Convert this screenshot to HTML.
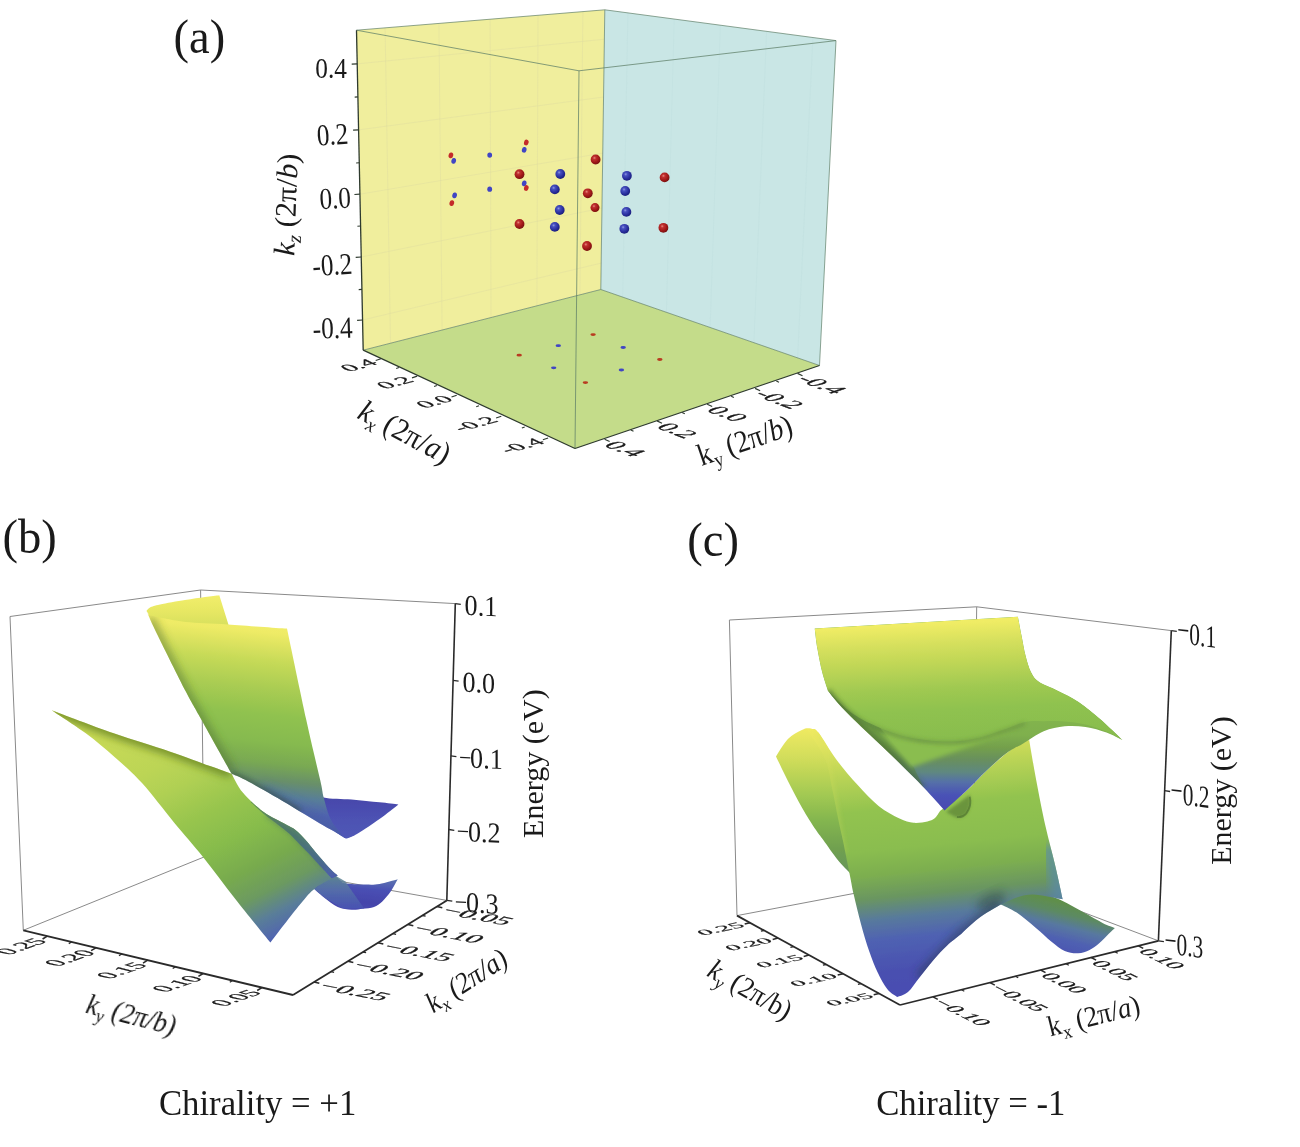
<!DOCTYPE html>
<html><head><meta charset="utf-8"><title>Figure</title>
<style>
html,body{margin:0;padding:0;background:#fff;}
body{width:1300px;height:1147px;overflow:hidden;}
svg{display:block;font-family:'Liberation Serif','Times New Roman',serif;filter:blur(0.45px);}
</style></head><body>
<svg width="1300" height="1147" viewBox="0 0 1300 1147">
<defs>
<radialGradient id="gb" cx="0.38" cy="0.34" r="0.65"><stop offset="0" stop-color="#8f97e0"/><stop offset="0.25" stop-color="#4650c0"/><stop offset="0.7" stop-color="#2a2f9e"/><stop offset="1" stop-color="#1c2080"/></radialGradient>
<radialGradient id="gr" cx="0.38" cy="0.34" r="0.65"><stop offset="0" stop-color="#e88a80"/><stop offset="0.25" stop-color="#c03030"/><stop offset="0.7" stop-color="#a01818"/><stop offset="1" stop-color="#7a1010"/></radialGradient>
<filter id="b03" x="-20%" y="-20%" width="140%" height="140%"><feGaussianBlur stdDeviation="0.35"/></filter>
<filter id="b05" x="-20%" y="-20%" width="140%" height="140%"><feGaussianBlur stdDeviation="0.5"/></filter>
<filter id="s06" x="-5%" y="-5%" width="110%" height="110%"><feGaussianBlur stdDeviation="0.6"/></filter>
<filter id="s2" x="-30%" y="-30%" width="160%" height="160%"><feGaussianBlur stdDeviation="2"/></filter>
<filter id="s4" x="-30%" y="-30%" width="160%" height="160%"><feGaussianBlur stdDeviation="4"/></filter>
<filter id="s7" x="-50%" y="-50%" width="200%" height="200%"><feGaussianBlur stdDeviation="7"/></filter>
<linearGradient id="bLflap" gradientUnits="userSpaceOnUse" x1="340" y1="876" x2="336.4" y2="911.6"><stop offset="0.000" stop-color="#5a6fb0"/><stop offset="0.278" stop-color="#4a50b4"/><stop offset="0.667" stop-color="#4444aa"/><stop offset="1.000" stop-color="#4a4cb2"/></linearGradient>
<linearGradient id="bLinner" gradientUnits="userSpaceOnUse" x1="340" y1="874" x2="340" y2="908"><stop offset="0.000" stop-color="#5f8a88"/><stop offset="0.471" stop-color="#5572a8"/><stop offset="1.000" stop-color="#4a55b2"/></linearGradient>
<linearGradient id="bLsheet" gradientUnits="userSpaceOnUse" x1="150" y1="662" x2="286" y2="934"><stop offset="0.000" stop-color="#c9da57"/><stop offset="0.171" stop-color="#c6d957"/><stop offset="0.318" stop-color="#bcd555"/><stop offset="0.406" stop-color="#b0d053"/><stop offset="0.524" stop-color="#98c54e"/><stop offset="0.641" stop-color="#87bc4c"/><stop offset="0.759" stop-color="#77aa4e"/><stop offset="0.847" stop-color="#6c9a60"/><stop offset="0.921" stop-color="#5a7e98"/><stop offset="1.000" stop-color="#4f62b2"/></linearGradient>
<clipPath id="bLclip"><path d="M51.6,710.2C62,714.1 94.1,726.4 113.7,733.3C133.3,740.2 153.4,745.9 169.5,751.4C185.6,756.9 199.7,762.3 210,766C220.3,769.7 228,772.4 231.6,773.7C233.5,776.9 237.5,786.2 242.8,792.6C248.2,799 256.5,806.8 263.7,812.1C270.9,817.4 280.6,821.6 286,824.6C291.4,827.6 292.5,827.6 295.8,830.2C299.1,832.8 301.7,835.6 305.6,840C309.6,844.4 315.3,851.8 319.5,856.7C323.7,861.6 327.7,866.2 330.7,869.3C333.7,872.4 336.5,874.5 337.7,875.5C334,877.6 321.6,883.4 315.3,888.2C309,893 307.5,895.5 300,904.5C292.5,913.5 275.3,936.2 270.4,942.5C264.6,935.3 246.7,913.5 235.5,899.2C224.3,884.9 213.2,869.7 203,856.9C192.8,844.1 184.2,834.7 174,822.4C163.8,810.1 151.9,794 142,783.1C132.1,772.2 123.9,765.3 114.5,757C105.1,748.7 96.3,741.1 85.8,733.3C75.3,725.5 57.3,714.1 51.6,710.2Z"/></clipPath>
<linearGradient id="bLband" gradientUnits="userSpaceOnUse" x1="300" y1="805" x2="300" y2="878"><stop offset="0.000" stop-color="#5c8a58"/><stop offset="0.411" stop-color="#4f7a72"/><stop offset="0.753" stop-color="#4a6a98"/><stop offset="1.000" stop-color="#4a58b0"/></linearGradient>
<linearGradient id="bUback" gradientUnits="userSpaceOnUse" x1="180" y1="595" x2="180" y2="630"><stop offset="0.000" stop-color="#f2ee69"/><stop offset="0.486" stop-color="#e6e763"/><stop offset="1.000" stop-color="#d2de5c"/></linearGradient>
<linearGradient id="bUflap" gradientUnits="userSpaceOnUse" x1="340" y1="797" x2="340" y2="838"><stop offset="0.000" stop-color="#4646aa"/><stop offset="0.439" stop-color="#4c50b2"/><stop offset="1.000" stop-color="#5058b6"/></linearGradient>
<linearGradient id="bUsheet" gradientUnits="userSpaceOnUse" x1="300" y1="624" x2="279.1" y2="832.9"><stop offset="0.000" stop-color="#f3ee68"/><stop offset="0.057" stop-color="#eeeb66"/><stop offset="0.123" stop-color="#dbe25f"/><stop offset="0.194" stop-color="#c6da58"/><stop offset="0.322" stop-color="#a9cc52"/><stop offset="0.445" stop-color="#90c24f"/><stop offset="0.573" stop-color="#86ba4f"/><stop offset="0.673" stop-color="#79a952"/><stop offset="0.754" stop-color="#688f6a"/><stop offset="0.825" stop-color="#587e98"/><stop offset="0.900" stop-color="#4f62b0"/><stop offset="1.000" stop-color="#4c54b4"/></linearGradient>
<clipPath id="bUclip"><path d="M146.5,611C146.8,611.5 147.3,613.2 148,614C148.7,614.8 150.4,615.3 150.9,615.6C153.2,616.1 159.2,617.6 165,618.6C170.8,619.6 175.4,620.9 185.8,621.9C196.2,622.9 210.8,623.3 227.7,624.4C244.6,625.5 277.1,627.9 287,628.6C290.2,643.8 300.8,694.8 306.3,720C311.8,745.2 317.3,767.1 320.2,780C323.1,792.9 322.1,791.1 323.7,797.4C325.3,803.7 327.6,812.3 330,817.7C332.4,823.1 335.6,826.6 338,830C340.4,833.4 343.5,836.6 344.6,837.9C344.4,837.7 347.5,838.9 343.3,836.5C339.1,834.1 330.4,829.7 319.5,823.3C308.6,816.9 290,805.3 277.7,798.1C265.4,790.9 253.3,784.1 245.6,780C237.9,775.9 233.9,774.8 231.6,773.7C226.6,764.8 209.2,733.7 201.6,720C194,706.3 193.1,705.6 185.8,691.6C178.5,677.6 164.5,649.2 157.9,635.8C151.3,622.4 148.4,615.1 146.5,611Z"/></clipPath>
<linearGradient id="cLback" gradientUnits="userSpaceOnUse" x1="800" y1="728" x2="800" y2="875"><stop offset="0.000" stop-color="#f0ea62"/><stop offset="0.218" stop-color="#cfdc5a"/><stop offset="0.456" stop-color="#a2c952"/><stop offset="0.626" stop-color="#84b64f"/><stop offset="0.830" stop-color="#6f9f50"/><stop offset="1.000" stop-color="#66955a"/></linearGradient>
<linearGradient id="cLflap" gradientUnits="userSpaceOnUse" x1="1030" y1="893" x2="1015.9" y2="949.5"><stop offset="0.000" stop-color="#5f8f48"/><stop offset="0.200" stop-color="#5c8a62"/><stop offset="0.417" stop-color="#5878a0"/><stop offset="0.650" stop-color="#4f60b2"/><stop offset="1.000" stop-color="#4a4eb0"/></linearGradient>
<linearGradient id="cLsheet" gradientUnits="userSpaceOnUse" x1="900" y1="719" x2="927.6" y2="995.2"><stop offset="0.000" stop-color="#f0ea62"/><stop offset="0.065" stop-color="#e3e55f"/><stop offset="0.176" stop-color="#bdd556"/><stop offset="0.319" stop-color="#92c34f"/><stop offset="0.462" stop-color="#8abd4f"/><stop offset="0.552" stop-color="#7cae50"/><stop offset="0.634" stop-color="#6a9660"/><stop offset="0.710" stop-color="#587a9c"/><stop offset="0.785" stop-color="#4f62b2"/><stop offset="0.900" stop-color="#4a50b0"/><stop offset="1.000" stop-color="#4a4cb2"/></linearGradient>
<clipPath id="cLclip"><path d="M807,729.5C807.8,729.4 810.1,728.5 812,729C813.9,729.5 814.5,727.6 818.6,732.8C822.7,738 830.2,751.3 836.7,760C843.2,768.7 850.7,777.4 857.7,785.1C864.7,792.8 871.6,800.4 878.6,806C885.6,811.6 893.7,815.8 899.5,818.6C905.3,821.4 908.9,822.3 913.5,822.8C918.1,823.3 923.9,822.1 927.4,821.4C930.9,820.7 932.3,820.3 934.4,818.6C936.5,816.9 939.1,812.3 940,811C944.3,807.8 957.9,798.3 965.6,791.6C973.4,784.9 979.5,777.2 986.5,770.7C993.5,764.2 1001.8,757.2 1007.4,752.6C1013,748 1016.4,744.9 1020,742.8C1023.6,740.7 1027.7,740.5 1029.2,740C1030.3,746.4 1033.2,764 1035.9,778.4C1038.6,792.8 1042.3,811.9 1045.5,826.3C1048.7,840.7 1052.1,852.6 1055,864.7C1057.9,876.9 1061.4,893.5 1062.7,899.2C1060.2,898.8 1052.5,897.3 1047.4,896.5C1042.3,895.7 1037.1,894.4 1032,894.6C1026.9,894.8 1022.1,895.7 1016.7,897.5C1011.3,899.3 1002.4,903.9 999.5,905.2C996,907.4 985.1,913.3 978.4,918.4C971.7,923.5 964.4,931.1 959.2,935.6C954,940.1 951.7,941.2 947.4,945.3C943.1,949.4 938.1,954.6 933.5,960C928.9,965.4 923.8,972.2 919.5,977.5C915.2,982.8 911.7,988.8 908,992C904.3,995.2 899,996.2 897.2,997C895.6,995.7 890.6,993.4 887.4,989.3C884.1,985.2 880.7,978.9 877.7,972.6C874.7,966.3 872.1,959.8 869.3,951.6C866.5,943.5 863.4,933 860.9,923.7C858.4,914.4 855.9,903.9 854,895.8C852.1,887.7 851.7,884.2 849.8,874.9C847.9,865.6 844.8,849.4 842.8,840C840.8,830.6 839.8,826.8 838.1,818.6C836.4,810.4 834.8,800.7 832.6,790.7C830.4,780.7 829.3,768.8 825,758.6C820.7,748.4 810,734.4 807,729.5Z"/></clipPath>
<filter id="s15" x="-30%" y="-30%" width="160%" height="160%"><feGaussianBlur stdDeviation="1.8"/></filter>
<linearGradient id="cUin" gradientUnits="userSpaceOnUse" x1="900" y1="700" x2="900" y2="812"><stop offset="0.000" stop-color="#86b84e"/><stop offset="0.312" stop-color="#7fb04e"/><stop offset="0.429" stop-color="#739f4c"/><stop offset="0.536" stop-color="#688f5e"/><stop offset="0.643" stop-color="#5f8880"/><stop offset="0.732" stop-color="#5570a8"/><stop offset="0.848" stop-color="#4a52b6"/><stop offset="1.000" stop-color="#4848b0"/></linearGradient>
<clipPath id="cUclip"><path d="M814.7,628.6L1017.9,616.7C1018.5,619.7 1020.1,628.4 1021.4,634.9C1022.7,641.4 1024,649.5 1025.6,655.8C1027.2,662.1 1028.9,668.2 1031.2,672.6C1033.5,677 1035.1,679.3 1039.5,682.3C1043.9,685.3 1051.2,687.4 1057.7,690.7C1064.2,694 1071.6,697.2 1078.6,701.9C1085.6,706.5 1092.2,712.2 1099.5,718.6C1106.8,725 1118.8,736.6 1122.6,740.2C1119.9,738.9 1112.7,734.8 1106.5,732.6C1100.3,730.4 1092.6,728 1085.6,727C1078.6,726 1071.7,725.6 1064.7,726.3C1057.7,727 1050.7,728.3 1043.7,731.2C1036.7,734.1 1028.8,740.1 1022.8,743.7C1016.8,747.3 1013.4,748.1 1007.4,752.6C1001.4,757.1 993.5,764.2 986.5,770.7C979.5,777.2 972.6,785 965.6,791.6C958.6,798.2 948.1,807.4 944.6,810.5C941.1,806.6 931.8,795.9 923.7,787.4C915.6,778.9 905.1,768.6 895.8,759.5C886.5,750.4 876.9,741.7 867.9,733C858.9,724.3 848.6,714.4 841.9,707.4C835.2,700.4 830.2,693.5 827.9,690.7C827,687.7 824,679.6 822.3,672.6C820.5,665.6 818.7,656.1 817.4,648.8C816.1,641.5 815.2,632 814.7,628.6Z"/></clipPath>
<linearGradient id="cUface" gradientUnits="userSpaceOnUse" x1="900" y1="616" x2="906.4" y2="744.7"><stop offset="0.000" stop-color="#f4ee66"/><stop offset="0.078" stop-color="#efec65"/><stop offset="0.225" stop-color="#d6e05d"/><stop offset="0.380" stop-color="#bfd656"/><stop offset="0.574" stop-color="#a0c951"/><stop offset="0.744" stop-color="#8fc24f"/><stop offset="1.000" stop-color="#88bc4e"/></linearGradient>
</defs>
<rect width="1300" height="1147" fill="#ffffff"/>
<text transform="translate(173.5 53) scale(0.97 1)" font-size="48" text-anchor="start" fill="#1a1a1a" >(a)</text>
<polygon points="356.5,30.2 604.8,9.8 600.8,289.5 363.2,350.2" fill="#f0ee9d" />
<polygon points="604.8,9.8 836,40.6 819.5,365.5 600.8,289.5" fill="#c9e6e5" />
<polygon points="363.2,350.2 600.8,289.5 819.5,365.5 575,448.5" fill="#c4dc8a" />
<line x1="385.1" y1="27.9" x2="390.5" y2="343.2" stroke="#dcdaa0" stroke-width="0.9" stroke-opacity="0.45" />
<line x1="438.9" y1="23.4" x2="442.1" y2="330" stroke="#dcdaa0" stroke-width="0.9" stroke-opacity="0.45" />
<line x1="490.1" y1="19.2" x2="491" y2="317.5" stroke="#dcdaa0" stroke-width="0.9" stroke-opacity="0.45" />
<line x1="538" y1="15.3" x2="536.9" y2="305.8" stroke="#dcdaa0" stroke-width="0.9" stroke-opacity="0.45" />
<line x1="582.9" y1="11.6" x2="579.9" y2="294.8" stroke="#dcdaa0" stroke-width="0.9" stroke-opacity="0.45" />
<line x1="357.2" y1="63.9" x2="604.4" y2="39.2" stroke="#dcdaa0" stroke-width="0.9" stroke-opacity="0.45" />
<line x1="358.6" y1="129.9" x2="603.6" y2="97" stroke="#dcdaa0" stroke-width="0.9" stroke-opacity="0.45" />
<line x1="359.9" y1="194.2" x2="602.8" y2="153.1" stroke="#dcdaa0" stroke-width="0.9" stroke-opacity="0.45" />
<line x1="361.2" y1="257" x2="602" y2="208.1" stroke="#dcdaa0" stroke-width="0.9" stroke-opacity="0.45" />
<line x1="362.6" y1="320" x2="601.2" y2="263.1" stroke="#dcdaa0" stroke-width="0.9" stroke-opacity="0.45" />
<line x1="627.9" y1="12.9" x2="622.7" y2="297.1" stroke="#bcdada" stroke-width="0.9" stroke-opacity="0.35" />
<line x1="674.2" y1="19" x2="666.4" y2="312.3" stroke="#bcdada" stroke-width="0.9" stroke-opacity="0.35" />
<line x1="720.4" y1="25.2" x2="710.1" y2="327.5" stroke="#bcdada" stroke-width="0.9" stroke-opacity="0.35" />
<line x1="766.6" y1="31.4" x2="753.9" y2="342.7" stroke="#bcdada" stroke-width="0.9" stroke-opacity="0.35" />
<line x1="812.9" y1="37.5" x2="797.6" y2="357.9" stroke="#bcdada" stroke-width="0.9" stroke-opacity="0.35" />
<line x1="604.8" y1="9.8" x2="600.8" y2="289.5" stroke="#5f7f68" stroke-width="1" stroke-opacity="0.7" />
<line x1="363.2" y1="350.2" x2="600.8" y2="289.5" stroke="#5f7f68" stroke-width="1" stroke-opacity="0.7" />
<line x1="600.8" y1="289.5" x2="819.5" y2="365.5" stroke="#5f7f68" stroke-width="1" stroke-opacity="0.7" />
<line x1="356.5" y1="30.2" x2="604.8" y2="9.8" stroke="#5f7f68" stroke-width="1" stroke-opacity="0.7" />
<line x1="604.8" y1="9.8" x2="836" y2="40.6" stroke="#5f7f68" stroke-width="1" stroke-opacity="0.7" />
<line x1="836" y1="40.6" x2="819.5" y2="365.5" stroke="#5f7f68" stroke-width="1" stroke-opacity="0.7" />
<g filter="url(#b03)">
<ellipse cx="450.9" cy="155.4" rx="2.3" ry="2.9" fill="#c42a2a" transform="rotate(15 450.9 155.4)"/>
<ellipse cx="453.7" cy="160.9" rx="2.3" ry="2.9" fill="#3f44c4" transform="rotate(15 453.7 160.9)"/>
<ellipse cx="454.6" cy="195.4" rx="2.3" ry="2.9" fill="#3f44c4" transform="rotate(15 454.6 195.4)"/>
<ellipse cx="451.8" cy="203.1" rx="2.3" ry="2.9" fill="#c42a2a" transform="rotate(15 451.8 203.1)"/>
<ellipse cx="489.7" cy="155.1" rx="2.4" ry="2.6" fill="#3f44c4" transform="rotate(0 489.7 155.1)"/>
<ellipse cx="489.7" cy="189.2" rx="2.4" ry="2.6" fill="#3f44c4" transform="rotate(0 489.7 189.2)"/>
<ellipse cx="526.3" cy="142.5" rx="2.3" ry="2.9" fill="#c42a2a" transform="rotate(15 526.3 142.5)"/>
<ellipse cx="524.2" cy="149.8" rx="2.3" ry="2.9" fill="#3f44c4" transform="rotate(15 524.2 149.8)"/>
<ellipse cx="524.2" cy="183.4" rx="2.3" ry="2.9" fill="#3f44c4" transform="rotate(15 524.2 183.4)"/>
<ellipse cx="526.3" cy="188" rx="2.3" ry="2.9" fill="#c42a2a" transform="rotate(15 526.3 188)"/>
<ellipse cx="593.1" cy="334.6" rx="2.7" ry="1.4" fill="#b83a20" transform="rotate(0 593.1 334.6)"/>
<ellipse cx="558.3" cy="345.7" rx="2.7" ry="1.4" fill="#3f44c4" transform="rotate(0 558.3 345.7)"/>
<ellipse cx="623.2" cy="347.5" rx="2.7" ry="1.4" fill="#3f44c4" transform="rotate(0 623.2 347.5)"/>
<ellipse cx="519.2" cy="355.2" rx="2.7" ry="1.4" fill="#b83a20" transform="rotate(0 519.2 355.2)"/>
<ellipse cx="553.7" cy="367.8" rx="2.7" ry="1.4" fill="#3f44c4" transform="rotate(0 553.7 367.8)"/>
<ellipse cx="621.4" cy="370" rx="2.7" ry="1.4" fill="#3f44c4" transform="rotate(0 621.4 370)"/>
<ellipse cx="585.4" cy="382.6" rx="2.7" ry="1.4" fill="#b83a20" transform="rotate(0 585.4 382.6)"/>
<ellipse cx="659.8" cy="359.5" rx="2.7" ry="1.4" fill="#b83a20" transform="rotate(0 659.8 359.5)"/>
<circle cx="519.5" cy="174.2" r="4.9" fill="url(#gr)"/>
<circle cx="519.5" cy="224" r="4.9" fill="url(#gr)"/>
<circle cx="595.6" cy="159.5" r="4.9" fill="url(#gr)"/>
<circle cx="587.8" cy="193.3" r="4.9" fill="url(#gr)"/>
<circle cx="587" cy="246" r="4.9" fill="url(#gr)"/>
<circle cx="664.6" cy="177.4" r="4.9" fill="url(#gr)"/>
<circle cx="663.4" cy="227.8" r="4.9" fill="url(#gr)"/>
<circle cx="595" cy="207.6" r="4.5" fill="url(#gr)"/>
<circle cx="560.3" cy="174" r="4.9" fill="url(#gb)"/>
<circle cx="554.8" cy="189.4" r="4.9" fill="url(#gb)"/>
<circle cx="559.7" cy="210" r="4.9" fill="url(#gb)"/>
<circle cx="554.8" cy="226.9" r="4.9" fill="url(#gb)"/>
<circle cx="626.9" cy="175.8" r="4.9" fill="url(#gb)"/>
<circle cx="625.2" cy="191" r="4.9" fill="url(#gb)"/>
<circle cx="626.4" cy="211.9" r="4.9" fill="url(#gb)"/>
<circle cx="624.3" cy="228.8" r="4.9" fill="url(#gb)"/>
</g>
<line x1="356.5" y1="30.2" x2="579" y2="70.8" stroke="#5f7f68" stroke-width="1" stroke-opacity="0.75" />
<line x1="579" y1="70.8" x2="836" y2="40.6" stroke="#5f7f68" stroke-width="1" stroke-opacity="0.75" />
<line x1="579" y1="70.8" x2="575" y2="448.5" stroke="#5f7f68" stroke-width="1" stroke-opacity="0.75" />
<line x1="356.5" y1="30.2" x2="363.2" y2="350.2" stroke="#2e3a2e" stroke-width="1.3" stroke-opacity="1" />
<line x1="363.2" y1="350.2" x2="575" y2="448.5" stroke="#2e3a2e" stroke-width="1.3" stroke-opacity="1" />
<line x1="575" y1="448.5" x2="819.5" y2="365.5" stroke="#2e3a2e" stroke-width="1.3" stroke-opacity="1" />
<line x1="351.7" y1="64.2" x2="357.2" y2="63.9" stroke="#2e3a2e" stroke-width="1.2" stroke-opacity="1" />
<line x1="353.1" y1="130.2" x2="358.6" y2="129.9" stroke="#2e3a2e" stroke-width="1.2" stroke-opacity="1" />
<line x1="354.4" y1="194.5" x2="359.9" y2="194.2" stroke="#2e3a2e" stroke-width="1.2" stroke-opacity="1" />
<line x1="355.7" y1="257.3" x2="361.2" y2="257" stroke="#2e3a2e" stroke-width="1.2" stroke-opacity="1" />
<line x1="357.1" y1="320.3" x2="362.6" y2="320" stroke="#2e3a2e" stroke-width="1.2" stroke-opacity="1" />
<line x1="354.7" y1="97.1" x2="357.9" y2="96.9" stroke="#2e3a2e" stroke-width="1.1" stroke-opacity="1" />
<line x1="356.1" y1="163" x2="359.3" y2="162.8" stroke="#2e3a2e" stroke-width="1.1" stroke-opacity="1" />
<line x1="357.4" y1="226.2" x2="360.6" y2="226" stroke="#2e3a2e" stroke-width="1.1" stroke-opacity="1" />
<line x1="358.7" y1="289.6" x2="361.9" y2="289.4" stroke="#2e3a2e" stroke-width="1.1" stroke-opacity="1" />
<text transform="translate(347 78) scale(0.83 1)" font-size="30.5" text-anchor="end" fill="#1a1a1a" >0.4</text>
<text transform="translate(349 143.5) rotate(-4) scale(0.83 1)" font-size="30.5" text-anchor="end" fill="#1a1a1a" >0.2</text>
<text transform="translate(351.5 207.5) rotate(-3) scale(0.83 1)" font-size="30.5" text-anchor="end" fill="#1a1a1a" >0.0</text>
<text transform="translate(353 273.5) rotate(-4) scale(0.83 1)" font-size="30.5" text-anchor="end" fill="#1a1a1a" >-0.2</text>
<text transform="translate(353 337.5) rotate(-2) scale(0.83 1)" font-size="30.5" text-anchor="end" fill="#1a1a1a" >-0.4</text>
<text transform="translate(296 205) rotate(-88)" font-size="30" text-anchor="middle" fill="#1a1a1a" ><tspan font-style="italic">k</tspan><tspan font-style="italic" font-size="20" dy="6">z</tspan><tspan dy="-6"> (2π/</tspan><tspan font-style="italic">b</tspan>)</text>
<line x1="380.9" y1="358.7" x2="375.7" y2="360.5" stroke="#2e3a2e" stroke-width="1.2" stroke-opacity="1" />
<line x1="417.2" y1="376.1" x2="412" y2="377.9" stroke="#2e3a2e" stroke-width="1.2" stroke-opacity="1" />
<line x1="456.7" y1="395.2" x2="451.5" y2="397" stroke="#2e3a2e" stroke-width="1.2" stroke-opacity="1" />
<line x1="501.3" y1="416.2" x2="496.1" y2="418" stroke="#2e3a2e" stroke-width="1.2" stroke-opacity="1" />
<line x1="548.1" y1="438" x2="542.9" y2="439.8" stroke="#2e3a2e" stroke-width="1.2" stroke-opacity="1" />
<line x1="399" y1="367.4" x2="396.2" y2="368.4" stroke="#2e3a2e" stroke-width="1.1" stroke-opacity="1" />
<line x1="436.9" y1="385.6" x2="434.1" y2="386.6" stroke="#2e3a2e" stroke-width="1.1" stroke-opacity="1" />
<line x1="479" y1="405.7" x2="476.2" y2="406.7" stroke="#2e3a2e" stroke-width="1.1" stroke-opacity="1" />
<line x1="524.7" y1="427.1" x2="521.9" y2="428.1" stroke="#2e3a2e" stroke-width="1.1" stroke-opacity="1" />
<text transform="matrix(0.9154 -0.2539 0.6531 0.3031 378.9 363.7)" font-size="26" text-anchor="end" fill="#1a1a1a" stroke="#1a1a1a" stroke-width="0.45">0.4</text>
<text transform="matrix(0.9154 -0.2539 0.6531 0.3031 415.2 381.1)" font-size="26" text-anchor="end" fill="#1a1a1a" stroke="#1a1a1a" stroke-width="0.45">0.2</text>
<text transform="matrix(0.9154 -0.2539 0.6531 0.3031 454.7 400.2)" font-size="26" text-anchor="end" fill="#1a1a1a" stroke="#1a1a1a" stroke-width="0.45">0.0</text>
<text transform="matrix(0.9154 -0.2539 0.6531 0.3031 499.3 421.2)" font-size="26" text-anchor="end" fill="#1a1a1a" stroke="#1a1a1a" stroke-width="0.45">-0.2</text>
<text transform="matrix(0.9154 -0.2539 0.6531 0.3031 546.1 443)" font-size="26" text-anchor="end" fill="#1a1a1a" stroke="#1a1a1a" stroke-width="0.45">-0.4</text>
<text transform="translate(400 441) rotate(28) scale(0.94 1)" font-size="31" text-anchor="middle" fill="#1a1a1a" ><tspan font-style="italic">k</tspan><tspan font-style="italic" font-size="20" dy="6">x</tspan><tspan dy="-6"> (2π/</tspan><tspan font-style="italic">a</tspan>)</text>
<line x1="604.6" y1="439.2" x2="609.6" y2="441.5" stroke="#2e3a2e" stroke-width="1.2" stroke-opacity="1" />
<line x1="657" y1="420.9" x2="662" y2="423.2" stroke="#2e3a2e" stroke-width="1.2" stroke-opacity="1" />
<line x1="707.2" y1="404.2" x2="712.2" y2="406.5" stroke="#2e3a2e" stroke-width="1.2" stroke-opacity="1" />
<line x1="755.1" y1="388.4" x2="760.1" y2="390.7" stroke="#2e3a2e" stroke-width="1.2" stroke-opacity="1" />
<line x1="797.5" y1="373.4" x2="802.5" y2="375.7" stroke="#2e3a2e" stroke-width="1.2" stroke-opacity="1" />
<line x1="630.8" y1="430" x2="633.5" y2="431.3" stroke="#2e3a2e" stroke-width="1.1" stroke-opacity="1" />
<line x1="682.1" y1="412.5" x2="684.8" y2="413.8" stroke="#2e3a2e" stroke-width="1.1" stroke-opacity="1" />
<line x1="731.2" y1="396.3" x2="733.9" y2="397.6" stroke="#2e3a2e" stroke-width="1.1" stroke-opacity="1" />
<line x1="776.3" y1="380.9" x2="779" y2="382.2" stroke="#2e3a2e" stroke-width="1.1" stroke-opacity="1" />
<text transform="matrix(0.9336 0.3584 -0.8510 0.2930 602.5 445.5)" font-size="26" text-anchor="start" fill="#1a1a1a" stroke="#1a1a1a" stroke-width="0.45">0.4</text>
<text transform="matrix(0.9336 0.3584 -0.8510 0.2930 654.9 427.2)" font-size="26" text-anchor="start" fill="#1a1a1a" stroke="#1a1a1a" stroke-width="0.45">0.2</text>
<text transform="matrix(0.9336 0.3584 -0.8510 0.2930 705.1 410.5)" font-size="26" text-anchor="start" fill="#1a1a1a" stroke="#1a1a1a" stroke-width="0.45">0.0</text>
<text transform="matrix(0.9336 0.3584 -0.8510 0.2930 753 394.7)" font-size="26" text-anchor="start" fill="#1a1a1a" stroke="#1a1a1a" stroke-width="0.45">-0.2</text>
<text transform="matrix(0.9336 0.3584 -0.8510 0.2930 795.4 379.7)" font-size="26" text-anchor="start" fill="#1a1a1a" stroke="#1a1a1a" stroke-width="0.45">-0.4</text>
<text transform="translate(748 450) rotate(-19) scale(0.9 1)" font-size="31" text-anchor="middle" fill="#1a1a1a" ><tspan>k</tspan><tspan font-size="20" dy="6">y</tspan><tspan dy="-6"> (2π/</tspan><tspan font-style="italic">b</tspan>)</text>
<text transform="translate(2.5 553) scale(0.97 1)" font-size="48" text-anchor="start" fill="#1a1a1a" >(b)</text>
<line x1="10" y1="616.5" x2="200.6" y2="590" stroke="#8a8a8a" stroke-width="1" stroke-opacity="1" />
<line x1="200.6" y1="590" x2="455.3" y2="603.6" stroke="#8a8a8a" stroke-width="1" stroke-opacity="1" />
<line x1="10" y1="616.5" x2="23.3" y2="930.3" stroke="#8a8a8a" stroke-width="1" stroke-opacity="1" />
<line x1="200.6" y1="590" x2="204" y2="857" stroke="#8a8a8a" stroke-width="1" stroke-opacity="1" />
<line x1="23.3" y1="930.3" x2="204" y2="857" stroke="#8a8a8a" stroke-width="1" stroke-opacity="1" />
<line x1="204" y1="857" x2="446.8" y2="900.4" stroke="#8a8a8a" stroke-width="1" stroke-opacity="1" />
<g filter="url(#s06)">
<path d="M331,872C332.6,873.4 338.2,878.6 340.5,880.5C342.8,882.4 340.4,882.6 344.6,883.3C348.8,884 359.8,884.5 365.6,884.6C371.4,884.7 374.1,884.9 379.5,884C384.9,883.1 394.7,880.1 397.7,879.3C396.5,881.3 393.3,887.9 390.7,891.6C388.1,895.3 385.1,898.8 382.3,901.4C379.5,904 377.2,905.8 374,907C370.8,908.2 366.5,908.3 362.8,908.8C359.1,909.3 355.8,910.1 351.6,909.8C347.4,909.5 342.4,909.1 337.7,907C333,904.9 327.8,900.4 323.7,897.2C319.6,894 314.8,889.5 313,888L331,872Z" fill="url(#bLflap)"/>
<path d="M314.3,888.9 L333.5,874.4 L345,881.2 L364.2,908.5 L343,908.5 L325.8,898.5 Z" fill="url(#bLinner)" fill-opacity="0.85" filter="url(#s06)"/>
<path d="M51.6,710.2C62,714.1 94.1,726.4 113.7,733.3C133.3,740.2 153.4,745.9 169.5,751.4C185.6,756.9 199.7,762.3 210,766C220.3,769.7 228,772.4 231.6,773.7C233.5,776.9 237.5,786.2 242.8,792.6C248.2,799 256.5,806.8 263.7,812.1C270.9,817.4 280.6,821.6 286,824.6C291.4,827.6 292.5,827.6 295.8,830.2C299.1,832.8 301.7,835.6 305.6,840C309.6,844.4 315.3,851.8 319.5,856.7C323.7,861.6 327.7,866.2 330.7,869.3C333.7,872.4 336.5,874.5 337.7,875.5C334,877.6 321.6,883.4 315.3,888.2C309,893 307.5,895.5 300,904.5C292.5,913.5 275.3,936.2 270.4,942.5C264.6,935.3 246.7,913.5 235.5,899.2C224.3,884.9 213.2,869.7 203,856.9C192.8,844.1 184.2,834.7 174,822.4C163.8,810.1 151.9,794 142,783.1C132.1,772.2 123.9,765.3 114.5,757C105.1,748.7 96.3,741.1 85.8,733.3C75.3,725.5 57.3,714.1 51.6,710.2Z" fill="url(#bLsheet)"/>
<g clip-path="url(#bLclip)">
<path d="M51.6,709.2C62,713.1 94.1,725.4 113.7,732.3C133.3,739.2 153.4,744.9 169.5,750.4C185.6,755.9 199.7,761.3 210,765C220.3,768.7 228,771.4 231.6,772.7" fill="none" stroke="#56741e" stroke-width="10" stroke-opacity="0.75" filter="url(#s4)"/>
<path d="M250.6,801.9C252.9,804 259.9,810.7 264.5,814.5C269.1,818.3 273.9,821.6 278,824.8C282.1,828 285.3,830.3 289,833.6C292.7,836.9 296.3,841.1 300,844.8C303.7,848.5 307.2,851.9 311,855.9C314.8,859.9 319.1,864.8 322.5,868.5C325.9,872.2 330,876.7 331.5,878.3C335.4,876.9 344.8,881.9 345,880C345.2,878.1 339.2,869.7 335,865C330.8,860.3 324.4,856.8 319.5,852C314.6,847.2 309.6,840 305.6,836C301.7,832 299.1,830.3 295.8,828C292.5,825.7 291.4,825.3 286,822C280.6,818.7 269.3,811.5 263.7,808C258.1,804.5 254.4,802.1 252.6,800.9Z" fill="url(#bLband)" fill-opacity="0.9" filter="url(#s06)"/>
<path d="M266.5,815.5C268.8,817.1 276.3,822.3 280.5,825.3C284.7,828.3 287.9,830.4 291.6,833.6C295.3,836.9 299.1,841.1 302.8,844.8C306.5,848.5 310.2,851.9 313.9,855.9C317.6,859.9 323.2,866.4 325.1,868.5" fill="none" stroke="#3d5a6a" stroke-width="4" stroke-opacity="0.35" filter="url(#s2)"/>
</g>
</g>
<g filter="url(#s06)">
<path d="M146.5,611C147.1,610.4 147.8,608.6 150,607.5C152.2,606.4 154.2,605.8 160,604.5C165.8,603.2 177.5,601.2 185,600C192.5,598.8 199.3,597.8 205,597C210.7,596.2 216.9,595.6 219.3,595.3L229.5,628L155,624L146.5,611Z" fill="url(#bUback)"/>
<path d="M312,790C313.9,791.2 317.1,795.8 323.7,797.4C330.3,799 342.3,798.7 351.6,799.5C360.9,800.3 371.7,801.5 379.5,802.3C387.3,803.1 395.2,804 398.4,804.4C395.2,806.9 386.1,814.3 379.5,819.1C372.9,823.9 363.5,830 358.6,833C353.7,836 352.5,836.4 350.2,837.2C347.9,838 347.5,839.1 344.6,837.9C341.7,836.7 334.9,831.3 333,830L312,790Z" fill="url(#bUflap)"/>
<path d="M146.5,611C146.8,611.5 147.3,613.2 148,614C148.7,614.8 150.4,615.3 150.9,615.6C153.2,616.1 159.2,617.6 165,618.6C170.8,619.6 175.4,620.9 185.8,621.9C196.2,622.9 210.8,623.3 227.7,624.4C244.6,625.5 277.1,627.9 287,628.6C290.2,643.8 300.8,694.8 306.3,720C311.8,745.2 317.3,767.1 320.2,780C323.1,792.9 322.1,791.1 323.7,797.4C325.3,803.7 327.6,812.3 330,817.7C332.4,823.1 335.6,826.6 338,830C340.4,833.4 343.5,836.6 344.6,837.9C344.4,837.7 347.5,838.9 343.3,836.5C339.1,834.1 330.4,829.7 319.5,823.3C308.6,816.9 290,805.3 277.7,798.1C265.4,790.9 253.3,784.1 245.6,780C237.9,775.9 233.9,774.8 231.6,773.7C226.6,764.8 209.2,733.7 201.6,720C194,706.3 193.1,705.6 185.8,691.6C178.5,677.6 164.5,649.2 157.9,635.8C151.3,622.4 148.4,615.1 146.5,611Z" fill="url(#bUsheet)"/>
<g clip-path="url(#bUclip)">
<path d="M150,618C151.7,621.7 154,627.7 160,640C166,652.3 178.9,678.3 185.8,691.6C192.7,704.9 194,706.3 201.6,720C209.2,733.7 226.6,764.8 231.6,773.7" fill="none" stroke="#46662c" stroke-width="9" stroke-opacity="0.5" filter="url(#s4)"/>
<path d="M262,790C264.6,791.4 268.1,792.6 277.7,798.1C287.3,803.6 308.4,816.6 319.5,823.3C330.6,829.9 339.9,835.5 344,838" fill="none" stroke="#45609a" stroke-width="12" stroke-opacity="0.5" filter="url(#s4)"/>
<path d="M231.6,773.7C233.9,774.8 237.9,775.9 245.6,780C253.3,784.1 268.6,792.9 277.7,798.1C286.8,803.4 296.3,809.3 300,811.5" fill="none" stroke="#2f4a3a" stroke-width="6" stroke-opacity="0.5" filter="url(#s2)"/>
</g>
</g>
<line x1="23.3" y1="930.3" x2="293" y2="995" stroke="#2a2a2a" stroke-width="1.8" stroke-opacity="1" />
<line x1="293" y1="995" x2="446.8" y2="900.4" stroke="#2a2a2a" stroke-width="1.8" stroke-opacity="1" />
<line x1="455.3" y1="603.6" x2="446.8" y2="900.4" stroke="#2a2a2a" stroke-width="1.6" stroke-opacity="1" />
<line x1="47.3" y1="936.1" x2="42.6" y2="939" stroke="#2a2a2a" stroke-width="1.5" stroke-opacity="1" />
<line x1="95.8" y1="947.8" x2="91.1" y2="950.7" stroke="#2a2a2a" stroke-width="1.5" stroke-opacity="1" />
<line x1="147.7" y1="960.2" x2="143" y2="963.1" stroke="#2a2a2a" stroke-width="1.5" stroke-opacity="1" />
<line x1="203.1" y1="973.5" x2="198.4" y2="976.4" stroke="#2a2a2a" stroke-width="1.5" stroke-opacity="1" />
<line x1="261.9" y1="987.6" x2="257.2" y2="990.5" stroke="#2a2a2a" stroke-width="1.5" stroke-opacity="1" />
<line x1="71.5" y1="942" x2="68.8" y2="943.6" stroke="#2a2a2a" stroke-width="1.3" stroke-opacity="1" />
<line x1="121.8" y1="954" x2="119" y2="955.7" stroke="#2a2a2a" stroke-width="1.3" stroke-opacity="1" />
<line x1="175.4" y1="966.9" x2="172.7" y2="968.5" stroke="#2a2a2a" stroke-width="1.3" stroke-opacity="1" />
<line x1="232.5" y1="980.5" x2="229.8" y2="982.2" stroke="#2a2a2a" stroke-width="1.3" stroke-opacity="1" />
<text transform="matrix(0.9455 -0.3256 0.9176 0.2459 48.3 941.5)" font-size="24" text-anchor="end" fill="#1a1a1a" stroke="#1a1a1a" stroke-width="0.45">0.25</text>
<text transform="matrix(0.9455 -0.3256 0.9176 0.2459 96.8 953.2)" font-size="24" text-anchor="end" fill="#1a1a1a" stroke="#1a1a1a" stroke-width="0.45">0.20</text>
<text transform="matrix(0.9455 -0.3256 0.9176 0.2459 148.7 965.6)" font-size="24" text-anchor="end" fill="#1a1a1a" stroke="#1a1a1a" stroke-width="0.45">0.15</text>
<text transform="matrix(0.9455 -0.3256 0.9176 0.2459 204.1 978.9)" font-size="24" text-anchor="end" fill="#1a1a1a" stroke="#1a1a1a" stroke-width="0.45">0.10</text>
<text transform="matrix(0.9455 -0.3256 0.9176 0.2459 262.9 993)" font-size="24" text-anchor="end" fill="#1a1a1a" stroke="#1a1a1a" stroke-width="0.45">0.05</text>
<text transform="translate(129 1024) rotate(14.5) scale(0.92 1)" font-size="29" text-anchor="middle" fill="#1a1a1a" font-style="italic" ><tspan font-style="italic">k</tspan><tspan font-style="italic" font-size="19" dy="6">y</tspan><tspan dy="-6"> (2π/</tspan><tspan font-style="italic">b</tspan>)</text>
<line x1="314" y1="982" x2="319.3" y2="983.3" stroke="#2a2a2a" stroke-width="1.5" stroke-opacity="1" />
<line x1="348" y1="961.2" x2="353.3" y2="962.5" stroke="#2a2a2a" stroke-width="1.5" stroke-opacity="1" />
<line x1="378" y1="942.8" x2="383.3" y2="944.1" stroke="#2a2a2a" stroke-width="1.5" stroke-opacity="1" />
<line x1="408" y1="924.4" x2="413.3" y2="925.7" stroke="#2a2a2a" stroke-width="1.5" stroke-opacity="1" />
<line x1="437" y1="906.5" x2="442.3" y2="907.8" stroke="#2a2a2a" stroke-width="1.5" stroke-opacity="1" />
<line x1="331" y1="971.6" x2="334.1" y2="972.3" stroke="#2a2a2a" stroke-width="1.3" stroke-opacity="1" />
<line x1="363" y1="952" x2="366.1" y2="952.7" stroke="#2a2a2a" stroke-width="1.3" stroke-opacity="1" />
<line x1="393" y1="933.6" x2="396.1" y2="934.3" stroke="#2a2a2a" stroke-width="1.3" stroke-opacity="1" />
<line x1="422.5" y1="915.5" x2="425.6" y2="916.2" stroke="#2a2a2a" stroke-width="1.3" stroke-opacity="1" />
<text transform="matrix(1.1780 0.2290 -0.6814 0.4191 316.8 988.3)" font-size="24" text-anchor="start" fill="#1a1a1a" stroke="#1a1a1a" stroke-width="0.45">−0.25</text>
<text transform="matrix(1.1780 0.2290 -0.6814 0.4191 350.8 967.5)" font-size="24" text-anchor="start" fill="#1a1a1a" stroke="#1a1a1a" stroke-width="0.45">−0.20</text>
<text transform="matrix(1.1780 0.2290 -0.6814 0.4191 380.8 949.1)" font-size="24" text-anchor="start" fill="#1a1a1a" stroke="#1a1a1a" stroke-width="0.45">−0.15</text>
<text transform="matrix(1.1780 0.2290 -0.6814 0.4191 410.8 930.7)" font-size="24" text-anchor="start" fill="#1a1a1a" stroke="#1a1a1a" stroke-width="0.45">−0.10</text>
<text transform="matrix(1.1780 0.2290 -0.6814 0.4191 439.8 912.8)" font-size="24" text-anchor="start" fill="#1a1a1a" stroke="#1a1a1a" stroke-width="0.45">−0.05</text>
<text transform="translate(471.5 988.5) rotate(-33) scale(0.92 1)" font-size="29" text-anchor="middle" fill="#1a1a1a" font-style="italic" ><tspan font-style="italic">k</tspan><tspan font-style="italic" font-size="19" dy="6">x</tspan><tspan dy="-6"> (2π/</tspan><tspan font-style="italic">a</tspan>)</text>
<line x1="455.3" y1="603.6" x2="460.8" y2="604.4" stroke="#2a2a2a" stroke-width="1.3" stroke-opacity="1" />
<text transform="translate(464.6 614.8) skewY(3) scale(0.9 1)" font-size="29" text-anchor="start" fill="#1a1a1a" >0.1</text>
<line x1="453.1" y1="680.4" x2="458.6" y2="681.2" stroke="#2a2a2a" stroke-width="1.3" stroke-opacity="1" />
<text transform="translate(462.4 691.6) skewY(3) scale(0.9 1)" font-size="29" text-anchor="start" fill="#1a1a1a" >0.0</text>
<line x1="450.9" y1="755.8" x2="456.4" y2="756.6" stroke="#2a2a2a" stroke-width="1.3" stroke-opacity="1" />
<text transform="translate(460.2 767) skewY(3) scale(0.9 1)" font-size="29" text-anchor="start" fill="#1a1a1a" ><tspan font-size="22" dy="-4.5">–</tspan><tspan dy="4.5">0.1</tspan></text>
<line x1="448.8" y1="829.5" x2="454.3" y2="830.3" stroke="#2a2a2a" stroke-width="1.3" stroke-opacity="1" />
<text transform="translate(458.1 840.7) skewY(3) scale(0.9 1)" font-size="29" text-anchor="start" fill="#1a1a1a" ><tspan font-size="22" dy="-4.5">–</tspan><tspan dy="4.5">0.2</tspan></text>
<line x1="446.8" y1="900.4" x2="452.3" y2="901.2" stroke="#2a2a2a" stroke-width="1.3" stroke-opacity="1" />
<text transform="translate(456.1 911.6) skewY(3) scale(0.9 1)" font-size="29" text-anchor="start" fill="#1a1a1a" ><tspan font-size="22" dy="-4.5">–</tspan><tspan dy="4.5">0.3</tspan></text>
<text transform="translate(542.5 763.6) rotate(-90)" font-size="30" text-anchor="middle" fill="#1a1a1a" >Energy (eV)</text>
<text transform="translate(257.6 1115) scale(0.965 1)" font-size="36" text-anchor="middle" fill="#1a1a1a" >Chirality = +1</text>
<text transform="translate(687.3 556) scale(0.97 1)" font-size="48" text-anchor="start" fill="#1a1a1a" >(c)</text>
<line x1="729.4" y1="620" x2="976.7" y2="606.8" stroke="#8a8a8a" stroke-width="1" stroke-opacity="1" />
<line x1="976.7" y1="606.8" x2="1171.3" y2="630.6" stroke="#8a8a8a" stroke-width="1" stroke-opacity="1" />
<line x1="729.4" y1="620" x2="737" y2="915.6" stroke="#8a8a8a" stroke-width="1" stroke-opacity="1" />
<line x1="976.7" y1="606.8" x2="973.4" y2="870.8" stroke="#8a8a8a" stroke-width="1" stroke-opacity="1" />
<line x1="737" y1="915.6" x2="973.4" y2="870.8" stroke="#8a8a8a" stroke-width="1" stroke-opacity="1" />
<line x1="973.4" y1="870.8" x2="1158.4" y2="940.8" stroke="#8a8a8a" stroke-width="1" stroke-opacity="1" />
<g filter="url(#s06)">
<path d="M776,756.5C778,753.6 783.6,743.5 787.9,739.1C792.2,734.7 798.2,731.8 801.9,730C805.6,728.2 807.4,728.1 810.2,728.6C813,729.1 817.2,732.1 818.6,732.8C821,737.1 829.6,749 833,758.6C836.4,768.2 837,780.7 839,790.7C841,800.7 843.2,808.1 845,818.6C846.8,829.1 848.7,843.9 850,853.5C851.3,863.1 852.5,872.2 853,876C850.6,873.5 843.6,866.9 838.6,860.9C833.6,854.9 827.1,845.2 823.3,840C819.5,834.8 819.4,835.2 815.8,829.8C812.2,824.4 806.5,815.5 801.9,807.4C797.2,799.2 792.2,789.4 787.9,780.9C783.6,772.4 778,760.6 776,756.5Z" fill="url(#cLback)"/>
<path d="M999.5,904C1002.4,902.7 1011.3,898.1 1016.7,896.3C1022.1,894.5 1026.9,893.6 1032,893.4C1037.1,893.2 1042.3,894 1047.4,895.3C1052.5,896.6 1056.6,898.2 1062.7,901.1C1068.8,904 1077.1,908.9 1083.8,912.6C1090.5,916.3 1097.8,920.6 1103,923.2C1108.2,925.8 1112.9,927.2 1114.9,928C1113.9,929 1111.4,931.2 1108.8,933.7C1106.2,936.2 1102.4,940.6 1099.2,943.3C1096,946 1093.1,948.3 1089.6,950C1086.1,951.7 1082.2,953.1 1078.1,953.3C1073.9,953.5 1069.2,953 1064.7,951C1060.2,949 1056,945.2 1051.2,941.4C1046.4,937.6 1041.7,932.8 1035.9,928C1030.2,923.2 1022.8,916.6 1016.7,912.6C1010.6,908.6 1002.4,905.4 999.5,904Z" fill="url(#cLflap)"/>
<path d="M807,729.5C807.8,729.4 810.1,728.5 812,729C813.9,729.5 814.5,727.6 818.6,732.8C822.7,738 830.2,751.3 836.7,760C843.2,768.7 850.7,777.4 857.7,785.1C864.7,792.8 871.6,800.4 878.6,806C885.6,811.6 893.7,815.8 899.5,818.6C905.3,821.4 908.9,822.3 913.5,822.8C918.1,823.3 923.9,822.1 927.4,821.4C930.9,820.7 932.3,820.3 934.4,818.6C936.5,816.9 939.1,812.3 940,811C944.3,807.8 957.9,798.3 965.6,791.6C973.4,784.9 979.5,777.2 986.5,770.7C993.5,764.2 1001.8,757.2 1007.4,752.6C1013,748 1016.4,744.9 1020,742.8C1023.6,740.7 1027.7,740.5 1029.2,740C1030.3,746.4 1033.2,764 1035.9,778.4C1038.6,792.8 1042.3,811.9 1045.5,826.3C1048.7,840.7 1052.1,852.6 1055,864.7C1057.9,876.9 1061.4,893.5 1062.7,899.2C1060.2,898.8 1052.5,897.3 1047.4,896.5C1042.3,895.7 1037.1,894.4 1032,894.6C1026.9,894.8 1022.1,895.7 1016.7,897.5C1011.3,899.3 1002.4,903.9 999.5,905.2C996,907.4 985.1,913.3 978.4,918.4C971.7,923.5 964.4,931.1 959.2,935.6C954,940.1 951.7,941.2 947.4,945.3C943.1,949.4 938.1,954.6 933.5,960C928.9,965.4 923.8,972.2 919.5,977.5C915.2,982.8 911.7,988.8 908,992C904.3,995.2 899,996.2 897.2,997C895.6,995.7 890.6,993.4 887.4,989.3C884.1,985.2 880.7,978.9 877.7,972.6C874.7,966.3 872.1,959.8 869.3,951.6C866.5,943.5 863.4,933 860.9,923.7C858.4,914.4 855.9,903.9 854,895.8C852.1,887.7 851.7,884.2 849.8,874.9C847.9,865.6 844.8,849.4 842.8,840C840.8,830.6 839.8,826.8 838.1,818.6C836.4,810.4 834.8,800.7 832.6,790.7C830.4,780.7 829.3,768.8 825,758.6C820.7,748.4 810,734.4 807,729.5Z" fill="url(#cLsheet)"/>
<g clip-path="url(#cLclip)">
<ellipse cx="990" cy="898" rx="16" ry="8" fill="#2f4a3a" fill-opacity="0.4" filter="url(#s4)" transform="rotate(-25 996 897)"/>
<path d="M1050,845 L1056,872 L1063,900" fill="none" stroke="#5a8aa8" stroke-width="18" stroke-opacity="0.7" filter="url(#s4)"/>
<path d="M999.5,904 L959.2,935.6 L919.5,977.5" fill="none" stroke="#2a3a50" stroke-width="10" stroke-opacity="0.55" filter="url(#s4)"/>
<path d="M946,812 L969.8,794.8 Q972.5,806 966.5,814 Q962,818.5 956,817.4 Z" fill="#4a6e30" fill-opacity="0.55" filter="url(#s15)"/>
<path d="M969.8,796.8 Q972,806 966.2,813.6 Q962,818 957,817" fill="none" stroke="#3a5a28" stroke-width="1.8" stroke-opacity="0.45" filter="url(#s06)"/>
<path d="M818,733 L827,758.6 L832.6,790.7 L838.1,818.6 L843.7,853.5" fill="none" stroke="#d8e060" stroke-width="5" stroke-opacity="0.25" filter="url(#s2)"/>
</g>
</g>
<g filter="url(#s06)">
<path d="M814.7,628.6L1017.9,616.7C1018.5,619.7 1020.1,628.4 1021.4,634.9C1022.7,641.4 1024,649.5 1025.6,655.8C1027.2,662.1 1028.9,668.2 1031.2,672.6C1033.5,677 1035.1,679.3 1039.5,682.3C1043.9,685.3 1051.2,687.4 1057.7,690.7C1064.2,694 1071.6,697.2 1078.6,701.9C1085.6,706.5 1092.2,712.2 1099.5,718.6C1106.8,725 1118.8,736.6 1122.6,740.2C1119.9,738.9 1112.7,734.8 1106.5,732.6C1100.3,730.4 1092.6,728 1085.6,727C1078.6,726 1071.7,725.6 1064.7,726.3C1057.7,727 1050.7,728.3 1043.7,731.2C1036.7,734.1 1028.8,740.1 1022.8,743.7C1016.8,747.3 1013.4,748.1 1007.4,752.6C1001.4,757.1 993.5,764.2 986.5,770.7C979.5,777.2 972.6,785 965.6,791.6C958.6,798.2 948.1,807.4 944.6,810.5C941.1,806.6 931.8,795.9 923.7,787.4C915.6,778.9 905.1,768.6 895.8,759.5C886.5,750.4 876.9,741.7 867.9,733C858.9,724.3 848.6,714.4 841.9,707.4C835.2,700.4 830.2,693.5 827.9,690.7C827,687.7 824,679.6 822.3,672.6C820.5,665.6 818.7,656.1 817.4,648.8C816.1,641.5 815.2,632 814.7,628.6Z" fill="url(#cUin)"/>
<g clip-path="url(#cUclip)">
<path d="M829,692 L841.9,707.4 L867.9,733 L895.8,759.5 L923.7,787.4 L913.8,767.4 L876,723 Z" fill="#557f3c" fill-opacity="0.45" filter="url(#s06)"/>
<path d="M879,731 L911.2,767.2 L1016,730 L960,742 L920,741 Z" fill="#8bbf4f" filter="url(#s2)" fill-opacity="0.95"/>
<path d="M814.7,628.6L1017.9,616.7C1018.5,619.7 1020.1,628.4 1021.4,634.9C1022.7,641.4 1024,649.5 1025.6,655.8C1027.2,662.1 1028.9,668.2 1031.2,672.6C1033.5,677 1035.1,679.3 1039.5,682.3C1043.9,685.3 1051.2,687.4 1057.7,690.7C1064.2,694 1071.6,697.2 1078.6,701.9C1085.6,706.5 1092.2,712.2 1099.5,718.6C1106.8,725 1118.8,736.6 1122.6,740.2C1119.9,738.8 1112.7,734.2 1106.5,731.6C1100.3,729 1092.6,726.2 1085.6,724.5C1078.6,722.8 1071.7,722 1064.7,721.5C1057.7,721 1050.3,721.1 1043.7,721.2C1037.1,721.3 1032,720.5 1025,722C1018,723.5 1009.5,727.7 1001.9,730.3C994.3,732.9 987.6,735.9 979.5,737.7C971.4,739.6 962.5,741 953.5,741.4C944.5,741.8 934.9,741.2 925.6,740C916.3,738.8 907,737.2 897.7,734.4C888.4,731.6 877.9,727.2 869.8,723.3C861.6,719.3 855.8,716.1 848.8,710.7C841.8,705.3 831.4,694 827.9,690.7C827,687.7 824,679.6 822.3,672.6C820.5,665.6 818.7,656.1 817.4,648.8C816.1,641.5 815.2,632 814.7,628.6Z" fill="url(#cUface)"/>
<path d="M827.9,692.2C831.4,695.5 841.8,706.8 848.8,712.2C855.8,717.6 861.6,720.8 869.8,724.8C877.9,728.8 888.4,733.1 897.7,735.9C907,738.7 916.3,740.3 925.6,741.5C934.9,742.7 944.5,743.3 953.5,742.9C962.5,742.5 971.4,741.1 979.5,739.2C987.6,737.4 994.3,734.4 1001.9,731.8C1009.5,729.2 1021.1,724.9 1025,723.5" fill="none" stroke="#4b6e30" stroke-width="2.5" stroke-opacity="0.5" filter="url(#s2)"/>
<path d="M827.9,690.7C830.2,693.5 835.2,700.4 841.9,707.4C848.6,714.4 858.9,724.3 867.9,733C876.9,741.7 886.5,750.4 895.8,759.5C905.1,768.6 919.1,782.8 923.7,787.4" fill="none" stroke="#3f5f2c" stroke-width="6" stroke-opacity="0.45" filter="url(#s2)"/>
</g>
</g>
<line x1="737" y1="915.6" x2="900" y2="1005" stroke="#2a2a2a" stroke-width="1.8" stroke-opacity="1" />
<line x1="900" y1="1005" x2="1158.4" y2="940.8" stroke="#2a2a2a" stroke-width="1.8" stroke-opacity="1" />
<line x1="1171.3" y1="630.6" x2="1158.4" y2="940.8" stroke="#2a2a2a" stroke-width="1.6" stroke-opacity="1" />
<line x1="750" y1="922.8" x2="744.7" y2="924.1" stroke="#2a2a2a" stroke-width="1.5" stroke-opacity="1" />
<line x1="778" y1="938.1" x2="772.7" y2="939.4" stroke="#2a2a2a" stroke-width="1.5" stroke-opacity="1" />
<line x1="809" y1="955.1" x2="803.7" y2="956.4" stroke="#2a2a2a" stroke-width="1.5" stroke-opacity="1" />
<line x1="843" y1="973.8" x2="837.7" y2="975.1" stroke="#2a2a2a" stroke-width="1.5" stroke-opacity="1" />
<line x1="879" y1="993.5" x2="873.7" y2="994.8" stroke="#2a2a2a" stroke-width="1.5" stroke-opacity="1" />
<line x1="764" y1="930.5" x2="760.9" y2="931.2" stroke="#2a2a2a" stroke-width="1.3" stroke-opacity="1" />
<line x1="793.5" y1="946.6" x2="790.4" y2="947.4" stroke="#2a2a2a" stroke-width="1.3" stroke-opacity="1" />
<line x1="826" y1="964.5" x2="822.9" y2="965.2" stroke="#2a2a2a" stroke-width="1.3" stroke-opacity="1" />
<line x1="861" y1="983.6" x2="857.9" y2="984.4" stroke="#2a2a2a" stroke-width="1.3" stroke-opacity="1" />
<text transform="matrix(1.0271 -0.2183 0.5085 0.2789 746.1 926.5)" font-size="24" text-anchor="end" fill="#1a1a1a" stroke="#1a1a1a" stroke-width="0.45">0.25</text>
<text transform="matrix(1.0271 -0.2183 0.5085 0.2789 774.1 941.8)" font-size="24" text-anchor="end" fill="#1a1a1a" stroke="#1a1a1a" stroke-width="0.45">0.20</text>
<text transform="matrix(1.0271 -0.2183 0.5085 0.2789 805.1 958.8)" font-size="24" text-anchor="end" fill="#1a1a1a" stroke="#1a1a1a" stroke-width="0.45">0.15</text>
<text transform="matrix(1.0271 -0.2183 0.5085 0.2789 839.1 977.5)" font-size="24" text-anchor="end" fill="#1a1a1a" stroke="#1a1a1a" stroke-width="0.45">0.10</text>
<text transform="matrix(1.0271 -0.2183 0.5085 0.2789 875.1 997.2)" font-size="24" text-anchor="end" fill="#1a1a1a" stroke="#1a1a1a" stroke-width="0.45">0.05</text>
<text transform="translate(745.5 998) rotate(29.6) scale(0.92 1)" font-size="29" text-anchor="middle" fill="#1a1a1a" ><tspan font-style="italic">k</tspan><tspan font-style="italic" font-size="19" dy="6">y</tspan><tspan dy="-6"> (2π/</tspan><tspan>b</tspan>)</text>
<line x1="933" y1="996.8" x2="937.8" y2="999.4" stroke="#2a2a2a" stroke-width="1.5" stroke-opacity="1" />
<line x1="990" y1="982.6" x2="994.8" y2="985.2" stroke="#2a2a2a" stroke-width="1.5" stroke-opacity="1" />
<line x1="1040.7" y1="970" x2="1045.5" y2="972.6" stroke="#2a2a2a" stroke-width="1.5" stroke-opacity="1" />
<line x1="1091.3" y1="957.5" x2="1096.1" y2="960.1" stroke="#2a2a2a" stroke-width="1.5" stroke-opacity="1" />
<line x1="1138.4" y1="945.8" x2="1143.2" y2="948.4" stroke="#2a2a2a" stroke-width="1.5" stroke-opacity="1" />
<line x1="961.5" y1="989.7" x2="964.3" y2="991.2" stroke="#2a2a2a" stroke-width="1.3" stroke-opacity="1" />
<line x1="1015.4" y1="976.3" x2="1018.2" y2="977.8" stroke="#2a2a2a" stroke-width="1.3" stroke-opacity="1" />
<line x1="1066" y1="963.8" x2="1068.8" y2="965.3" stroke="#2a2a2a" stroke-width="1.3" stroke-opacity="1" />
<line x1="1114.8" y1="951.6" x2="1117.7" y2="953.2" stroke="#2a2a2a" stroke-width="1.3" stroke-opacity="1" />
<text transform="matrix(0.8681 0.4328 -0.8249 0.2050 931.8 1002.2)" font-size="24" text-anchor="start" fill="#1a1a1a" stroke="#1a1a1a" stroke-width="0.45">−0.10</text>
<text transform="matrix(0.8681 0.4328 -0.8249 0.2050 988.8 988)" font-size="24" text-anchor="start" fill="#1a1a1a" stroke="#1a1a1a" stroke-width="0.45">−0.05</text>
<text transform="matrix(0.8681 0.4328 -0.8249 0.2050 1039.5 975.4)" font-size="24" text-anchor="start" fill="#1a1a1a" stroke="#1a1a1a" stroke-width="0.45">0.00</text>
<text transform="matrix(0.8681 0.4328 -0.8249 0.2050 1090.1 962.9)" font-size="24" text-anchor="start" fill="#1a1a1a" stroke="#1a1a1a" stroke-width="0.45">0.05</text>
<text transform="matrix(0.8681 0.4328 -0.8249 0.2050 1137.2 951.2)" font-size="24" text-anchor="start" fill="#1a1a1a" stroke="#1a1a1a" stroke-width="0.45">0.10</text>
<text transform="translate(1096 1025) rotate(-14) scale(0.92 1)" font-size="29" text-anchor="middle" fill="#1a1a1a" ><tspan>k</tspan><tspan font-size="19" dy="6">x</tspan><tspan dy="-6"> (2π/</tspan><tspan font-style="italic">a</tspan>)</text>
<line x1="1171.3" y1="630.6" x2="1176.8" y2="631.4" stroke="#2a2a2a" stroke-width="1.3" stroke-opacity="1" />
<text transform="translate(1177.3 643.1) skewY(7) scale(0.68 1)" font-size="31.5" text-anchor="start" fill="#1a1a1a" ><tspan dy="-3">−</tspan><tspan dy="3">0.1</tspan></text>
<line x1="1164.6" y1="790.7" x2="1170.1" y2="791.5" stroke="#2a2a2a" stroke-width="1.3" stroke-opacity="1" />
<text transform="translate(1170.6 803.2) skewY(7) scale(0.68 1)" font-size="31.5" text-anchor="start" fill="#1a1a1a" ><tspan dy="-3">−</tspan><tspan dy="3">0.2</tspan></text>
<line x1="1158.4" y1="940.8" x2="1163.9" y2="941.6" stroke="#2a2a2a" stroke-width="1.3" stroke-opacity="1" />
<text transform="translate(1164.4 953.3) skewY(7) scale(0.68 1)" font-size="31.5" text-anchor="start" fill="#1a1a1a" ><tspan dy="-3">−</tspan><tspan dy="3">0.3</tspan></text>
<text transform="translate(1231 790.5) rotate(-90)" font-size="30" text-anchor="middle" fill="#1a1a1a" >Energy (eV)</text>
<text transform="translate(970.8 1115) scale(0.965 1)" font-size="36" text-anchor="middle" fill="#1a1a1a" >Chirality = -1</text>
</svg>
</body></html>
